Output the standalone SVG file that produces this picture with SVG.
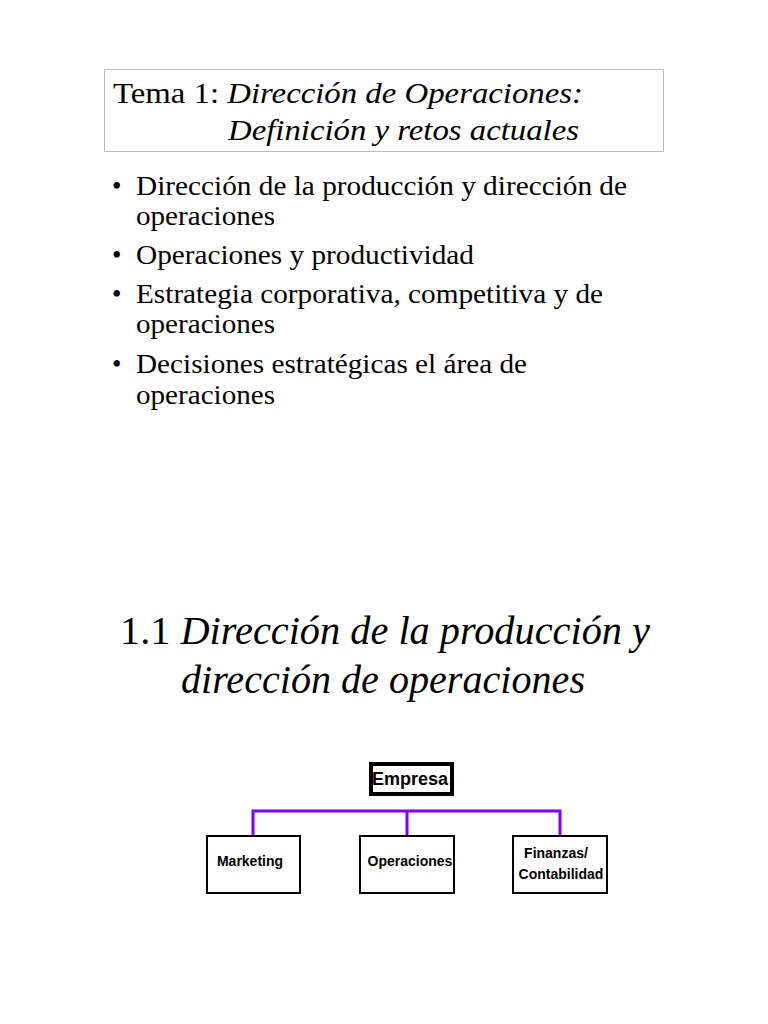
<svg xmlns="http://www.w3.org/2000/svg" width="768" height="1024" viewBox="0 0 768 1024">
<style>
.s{font-family:"Liberation Serif",serif;fill:#000}
.a{font-family:"Liberation Sans",Arial,sans-serif;font-weight:bold;fill:#000;font-size:13px}
.b{fill:#fff;stroke:#000;stroke-width:2}
</style>
<rect width="768" height="1024" fill="#fff"/>
<rect x="104.5" y="69.5" width="559" height="82" fill="none" stroke="#bbb" stroke-width="1"/>
<text class="s" x="113" y="103" font-size="29" textLength="470" lengthAdjust="spacingAndGlyphs">Tema 1: <tspan font-style="italic">Dirección de Operaciones:</tspan></text>
<text class="s" x="228" y="140" font-size="29" font-style="italic" textLength="351" lengthAdjust="spacingAndGlyphs">Definición y retos actuales</text>
<g class="s" font-size="27">
<text x="112" y="195">•</text><text x="136" y="195" textLength="491" lengthAdjust="spacingAndGlyphs">Dirección de la producción y dirección de</text>
<text x="136" y="225" textLength="139" lengthAdjust="spacingAndGlyphs">operaciones</text>
<text x="112" y="264">•</text><text x="136" y="264" textLength="338" lengthAdjust="spacingAndGlyphs">Operaciones y productividad</text>
<text x="112" y="303">•</text><text x="136" y="303" textLength="467" lengthAdjust="spacingAndGlyphs">Estrategia corporativa, competitiva y de</text>
<text x="136" y="333" textLength="139" lengthAdjust="spacingAndGlyphs">operaciones</text>
<text x="112" y="373">•</text><text x="136" y="373" textLength="391" lengthAdjust="spacingAndGlyphs">Decisiones estratégicas el área de</text>
<text x="136" y="404" textLength="139" lengthAdjust="spacingAndGlyphs">operaciones</text>
</g>
<text class="s" x="120" y="644" font-size="39" textLength="530" lengthAdjust="spacingAndGlyphs">1.1 <tspan font-style="italic">Dirección de la producción y</tspan></text>
<text class="s" x="181" y="693" font-size="39" font-style="italic" textLength="404" lengthAdjust="spacingAndGlyphs">dirección de operaciones</text>
<g id="connectors" fill="none" stroke="#7f00ff" stroke-width="3">
<path d="M253 836V811H560V836M407 811V836"/>
</g>
<g id="empresa"><rect x="371" y="764" width="81" height="30" fill="#fff" stroke="#000" stroke-width="4"/><text class="a" x="410" y="785" style="font-size:18px" text-anchor="middle">Empresa</text></g>
<g id="marketing"><rect class="b" x="207" y="836" width="93" height="57"/><text class="a" x="250" y="866" style="font-size:14px" text-anchor="middle">Marketing</text></g>
<g id="operaciones"><rect class="b" x="360" y="836" width="94" height="57"/><text class="a" x="410" y="866" style="font-size:14px" text-anchor="middle">Operaciones</text></g>
<g id="finanzas"><rect class="b" x="513" y="836" width="94" height="57"/><text class="a" x="556" y="858" style="font-size:14px" text-anchor="middle">Finanzas/</text><text class="a" x="561" y="879" style="font-size:14px" text-anchor="middle">Contabilidad</text></g>
</svg>
